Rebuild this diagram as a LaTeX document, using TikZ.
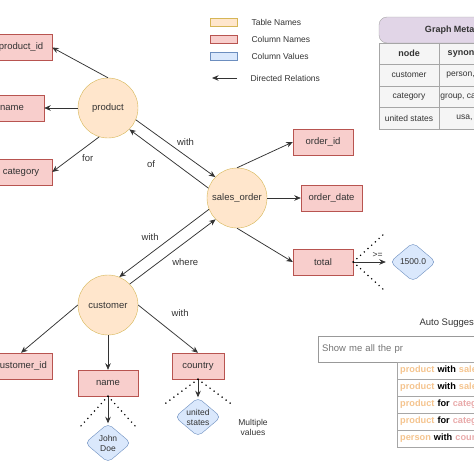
\documentclass[tikz,border=0pt]{standalone}
\usepackage{fontspec}
\setmainfont{Liberation Sans}
\usetikzlibrary{arrows.meta, shapes.geometric}

\definecolor{tblfill}{HTML}{FFE6CC}
\definecolor{tblline}{HTML}{D6B656}
\definecolor{colfill}{HTML}{F8CECC}
\definecolor{colline}{HTML}{B85450}
\definecolor{valfill}{HTML}{DAE8FC}
\definecolor{valline}{HTML}{6C8EBF}
\definecolor{metahead}{HTML}{E1D5E7}
\definecolor{metacell}{HTML}{F5F5F5}
\definecolor{ink}{HTML}{333333}
\definecolor{tblword}{HTML}{F5C48E}
\definecolor{colword}{HTML}{E9AAAA}

\begin{document}
\begin{tikzpicture}[
    x=1pt, y=-1pt,
    tbl/.style={circle, draw=tblline, fill=tblfill, minimum size=60pt, inner sep=0pt,
                font=\fontsize{9.5}{11}\selectfont, text=ink},
    col/.style={rectangle, draw=colline, fill=colfill, minimum height=26pt, inner sep=0pt,
                font=\fontsize{9.5}{11}\selectfont, text=ink},
    val/.style={diamond, draw=valline, fill=valfill, minimum width=46pt, minimum height=39pt,
                inner sep=0pt, rounded corners=5pt},
    vtxt/.style={font=\fontsize{8.5}{10}\selectfont, text=ink, align=center},
    lbl/.style={font=\fontsize{9.5}{11}\selectfont, text=ink},
    small/.style={font=\fontsize{8.5}{10}\selectfont, text=ink},
    arr/.style={-{Stealth[length=6.5pt, width=5.5pt]}, line width=0.75pt, draw=ink},
    fan/.style={draw=black, line width=1.7pt, dash pattern=on 0pt off 5pt, line cap=round},
    swatch/.style={rectangle, minimum width=27pt, minimum height=8pt, inner sep=0pt},
    cell/.style={rectangle, draw=gray!70, fill=metacell, minimum height=21.5pt, inner sep=0pt,
                 font=\fontsize{8.5}{10}\selectfont, text=ink},
    sugg/.style={rectangle, draw=gray!70, fill=white, anchor=west, minimum height=17pt,
                 text width=164pt, align=left, inner xsep=3pt, inner ysep=0pt,
                 font=\fontsize{9.2}{10}\selectfont\bfseries},
]
\useasboundingbox (0,0) rectangle (474,474);

% Tables
\node[tbl] (prod) at (108,108) {product};
\node[tbl] (so) at (237,198) {sales\_order};
\node[tbl] (cust) at (108,305) {customer};

% Columns of product
\node[col, minimum width=62pt] (pid) at (21,47.5) {product\_id};
\node[col, minimum width=64pt] (pname) at (12,108) {name};
\node[col, minimum width=62pt] (pcat) at (21,172) {category};

% Columns of sales_order
\node[col, minimum width=60pt] (oid) at (323,142) {order\_id};
\node[col, minimum width=61pt] (odate) at (331.5,198) {order\_date};
\node[col, minimum width=60pt] (tot) at (323,262) {total};

% Columns of customer
\node[col, minimum width=62pt] (cid) at (21,366) {customer\_id};
\node[col, minimum width=60pt] (cname) at (108,383) {name};
\node[col, minimum width=52pt] (ctry) at (198,366) {country};

% Values
\node[val, label={[vtxt]center:{John\\Doe}}] (jd) at (108,443) {};
\node[val, label={[vtxt]center:{united\\states}}] (us) at (198,417) {};
\node[val, label={[vtxt]center:{1500.0}}] (amt) at (413,262) {};
\node[small, align=center] (multi) at (253,427) {Multiple\\values};

% Column arrows
\draw[arr] (prod.north) -- (pid.east);
\draw[arr] (prod.west) -- (pname.east);
\draw[arr] (prod.253) -- node[lbl, pos=.5, xshift=12pt, yshift=-4pt] {for} (pcat.east);
\draw[arr] (so.north) -- (oid.west);
\draw[arr] (so.east) -- (odate.west);
\draw[arr] (so.south) -- (tot.west);
\draw[arr] (cust.west) -- (cid.north);
\draw[arr] (cust.south) -- (cname.north);
\draw[arr] (cust.east) -- node[lbl, pos=.5, xshift=12pt, yshift=16pt] {with} (ctry.north);

% Relations between tables
\draw[arr] (prod.-23) -- node[lbl, pos=.6, xshift=2pt, yshift=12pt] {with} (so.136);
\draw[arr] (so.161) -- node[lbl, pos=.6, xshift=-10pt, yshift=-11pt] {of} (prod.-45);
\draw[arr] (so.202) -- node[lbl, pos=.6, xshift=-5pt, yshift=13pt] {with} (cust.68);
\draw[arr] (cust.44) -- node[lbl, pos=.6, xshift=4pt, yshift=-17pt] {where} (so.225);

% Value arrows
\draw[arr] (cname.south) -- (jd.north);
\draw[arr] (ctry.south) -- (us.north);
\draw[arr, shorten >=4pt] (tot.east) -- node[small, midway, above, xshift=6pt, yshift=1pt] {>=} (amt.west);

% Dotted fans
\draw[fan] (cname.south) -- ++(-30,33);
\draw[fan] (cname.south) -- ++(30,33);
\draw[fan] (ctry.south) -- ++(-35,26);
\draw[fan] (ctry.south) -- ++(35,26);
\draw[fan] (tot.east) -- ++(33,-30);
\draw[fan] (tot.east) -- ++(33,30);

% Legend
\node[swatch, draw=tblline, fill=tblfill] (lg1) at (223.5,22) {};
\node[swatch, draw=colline, fill=colfill] (lg2) at (223.5,39) {};
\node[swatch, draw=valline, fill=valfill] (lg3) at (223.5,56) {};
\node[small, anchor=west] (lt1) at (248,22) {Table Names};
\node[small, anchor=west] (lt2) at (248,39) {Column Names};
\node[small, anchor=west] (lt3) at (248,56) {Column Values};
\coordinate (dr0) at (237,78);
\coordinate (dr1) at (212,78);
\draw[arr] (dr0) -- (dr1);
\node[small, anchor=west] (lt4) at (247,78) {Directed Relations};

% Graph metadata
\node[rectangle, draw=gray!70, fill=metahead, rounded corners=8pt, minimum width=160pt,
      minimum height=26pt, font=\fontsize{9}{10}\selectfont\bfseries, text=ink] (meta) at (459,30) {Graph Metadata};
\node[cell, minimum width=60pt, font=\fontsize{9}{10}\selectfont\bfseries] (m00) at (409,53.75) {node};
\node[cell, minimum width=62pt, font=\fontsize{9}{10}\selectfont\bfseries] (m01) at (470,53.75) {synonyms};
\node[cell, minimum width=60pt] (m10) at (409,75.25) {customer};
\node[cell, minimum width=62pt] (m11) at (470,75.25) {person, user};
\node[cell, minimum width=60pt] (m20) at (409,96.75) {category};
\node[cell, minimum width=62pt] (m21) at (470,96.75) {group, category};
\node[cell, minimum width=60pt] (m30) at (409,118.25) {united states};
\node[cell, minimum width=62pt] (m31) at (470,118.25) {usa, us};

% Auto suggestions
\node[lbl, anchor=west] (autot) at (416,323) {Auto Suggestions};
\node[rectangle, draw=gray!80, anchor=west, minimum height=26pt, text width=244pt, align=left,
      inner xsep=4pt, font=\fontsize{9.5}{11}\selectfont, text=gray!90!black] (search) at (318,349) {Show me all the pr};
\node[sugg] (s1) at (397,370.5) {\textcolor{tblword}{product} with \textcolor{tblword}{sales\_order}};
\node[sugg] (s2) at (397,387.5) {\textcolor{tblword}{product} with \textcolor{tblword}{sales\_order total}};
\node[sugg] (s3) at (397,404.5) {\textcolor{tblword}{product} for \textcolor{colword}{category}};
\node[sugg] (s4) at (397,421.5) {\textcolor{tblword}{product} for \textcolor{colword}{category name}};
\node[sugg] (s5) at (397,438.5) {\textcolor{tblword}{person} with \textcolor{colword}{country}};

\end{tikzpicture}
\end{document}
